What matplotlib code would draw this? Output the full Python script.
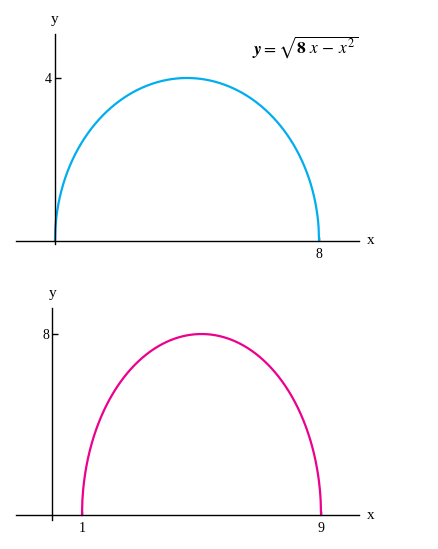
import numpy as np
import matplotlib.pyplot as plt

plt.rcParams["font.family"] = ["Liberation Serif", "DejaVu Serif"]
plt.rcParams["mathtext.fontset"] = "stix"

# top graph: y = sqrt(8x - x^2), zeros at 0 and 8, peak 4
top_zeros = [0, 8]
top_xticks = [8]
top_yticks = [4]
top_color = "#00AEEF"

# bottom graph: shifted right by 1, stretched by 2
bot_shift = 1
bot_scale = 2
bot_zeros = [1, 9]
bot_xticks = [1, 9]
bot_yticks = [8]
bot_color = "#EC008C"

labelsize = 10


def setup_axes(ax, xlim, ylim, ybound, xticks, yticks):
    ax.set_xlim(xlim)
    ax.set_ylim(ylim)
    for side in ["top", "right"]:
        ax.spines[side].set_visible(False)
    ax.spines["left"].set_position(("data", 0))
    ax.spines["bottom"].set_position(("data", 0))
    ax.spines["left"].set_bounds(ybound, ylim[1])
    ax.spines["left"].set_linewidth(1.0)
    ax.spines["bottom"].set_linewidth(1.0)
    ax.set_xticks(xticks)
    ax.set_yticks(yticks)
    ax.set_xticklabels([str(t) for t in xticks])
    ax.set_yticklabels([str(t) for t in yticks])
    ax.tick_params(axis="x", direction="in", length=3, width=1,
                   labelsize=labelsize, pad=5)
    ax.tick_params(axis="y", direction="in", length=4, width=1,
                   labelsize=labelsize, pad=2)
    ax.patch.set_visible(False)
    ax.text(xlim[1] + 0.25 * (xlim[1] - xlim[0]) / 10.4, 0, "x",
            fontsize=labelsize + 1, ha="left", va="center")
    ax.text(0, ylim[1] + 0.2 * (ylim[1] - ylim[0]) / 5.2, "y",
            fontsize=labelsize + 1, ha="center", va="bottom")


fig = plt.figure(figsize=(4.38, 5.49), dpi=100)

# top
ax1 = fig.add_axes([16 / 438, 1 - 245 / 549, 343 / 438, 211 / 549])
x1 = np.linspace(top_zeros[0], top_zeros[1], 600)
y1 = np.sqrt(np.clip(8 * x1 - x1 ** 2, 0, None))
ax1.plot(x1, y1, color=top_color, linewidth=1.6, clip_on=False)
setup_axes(ax1, (-1.18, 9.21), (-0.1, 5.08), -0.08, top_xticks, top_yticks)
ax1.text(0.997, 0.94,
         r"$\boldsymbol{y} = \sqrt{\mathbf{8}\ x\,-\,x^2}$",
         transform=ax1.transAxes, fontsize=12.5, ha="right", va="center")

# bottom
ax2 = fig.add_axes([16 / 438, 1 - 520 / 549, 343 / 438, 212 / 549])
x2 = np.linspace(bot_zeros[0], bot_zeros[1], 600)
u = x2 - bot_shift
y2 = bot_scale * np.sqrt(np.clip(8 * u - u ** 2, 0, None))
ax2.plot(x2, y2, color=bot_color, linewidth=1.6, clip_on=False)
setup_axes(ax2, (-1.208, 10.27), (-0.22, 9.15), -0.22, bot_xticks, bot_yticks)

fig.savefig("out.png", dpi=100)
